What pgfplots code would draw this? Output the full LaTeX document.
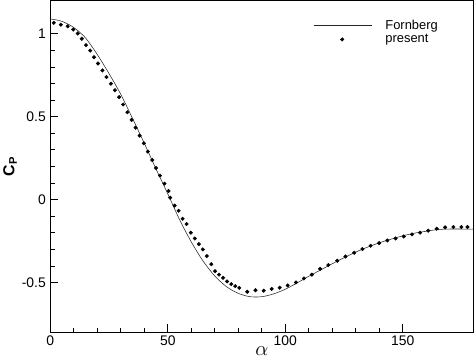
\documentclass[border=0pt]{standalone}
\usepackage{pgfplots}
\pgfplotsset{compat=1.18}
\usepackage{fontspec}
\setmainfont{Liberation Sans}
\pgfplotsset{
  lineleg/.style={legend image code/.code={\draw[##1] (0cm,0cm) -- (2.05cm,0cm); \path (2.45cm,0cm);}},
  dotleg/.style={legend image code/.code={\draw[##1, mark repeat=2, mark phase=2] plot coordinates {(0cm,0cm)(1cm,0cm)(2.05cm,0cm)}; \path (2.45cm,0cm);}},
}
\begin{document}
\begin{tikzpicture}
\begin{axis}[
  scale only axis,
  width=426pt, height=334pt,
  xmin=0, xmax=180, ymin=-0.8, ymax=1.2,
  xtick={0,50,100,150}, ytick={-0.5,0,0.5,1},
  minor x tick num=4, minor y tick num=4,
  tick pos=left, tick align=inside,
  major tick length=8pt, minor tick length=4.5pt,
  axis line style={line width=1.3pt},
  every tick/.style={black, line width=0.9pt},
  /pgf/number format/assume math mode=true,
  ticklabel style={font=\fontsize{14}{16}\selectfont},
  yticklabel style={/pgf/number format/fixed, xshift=-1pt},
  xlabel={$\alpha$}, xlabel style={font=\fontsize{20}{22}\selectfont, yshift=6pt},
  ylabel={\textbf{C\textsubscript{P}}}, ylabel style={font=\fontsize{16}{18}\selectfont, yshift=-2pt},
  legend style={draw=none, fill=none, at={(0.615,0.955)}, anchor=north west,
    font=\fontsize{13}{15}\selectfont, row sep=0pt},
  legend cell align=left,
]
\addplot[black!85, line width=0.55pt, smooth, tension=0.5, lineleg] coordinates {
(0,1.09) (5,1.075) (10,1.038) (15,0.975) (20,0.875) (25,0.76) (30,0.635)
(35,0.49) (40,0.34) (45,0.185) (50,0.035) (55,-0.12) (60,-0.255) (65,-0.37)
(70,-0.46) (75,-0.525) (80,-0.565) (85,-0.585) (90,-0.585) (95,-0.568)
(100,-0.54) (105,-0.502) (110,-0.462) (115,-0.424) (120,-0.386) (125,-0.35)
(130,-0.316) (135,-0.286) (140,-0.26) (145,-0.238) (150,-0.218) (155,-0.202)
(160,-0.19) (165,-0.18) (170,-0.177) (175,-0.177) (180,-0.178)
};
\addlegendentry{Fornberg}
\addplot[only marks, mark=*, mark size=1.8pt, black, dotleg] coordinates {
(1.5,1.066) (4.5,1.055) (7.4,1.045) (9.8,1.026) (11.7,1.002) (13.4,0.970)
(15.2,0.932) (17.0,0.899) (18.6,0.859) (20.3,0.821) (22.2,0.779) (23.9,0.739)
(25.8,0.699) (27.5,0.660) (29.3,0.618) (31.0,0.574) (32.8,0.527) (34.6,0.481)
(36.3,0.434) (38.0,0.386) (39.8,0.340) (41.5,0.290) (43.4,0.239) (45.0,0.191)
(46.7,0.145) (48.6,0.097) (50.3,0.052) (51.0,0.012) (52.9,-0.036) (54.6,-0.067)
(56.3,-0.115) (58.0,-0.147) (59.8,-0.199) (61.5,-0.234) (63.2,-0.268) (64.9,-0.300)
(66.6,-0.340) (68.5,-0.389) (70.1,-0.431) (71.8,-0.452) (73.5,-0.471) (75.2,-0.493)
(77.0,-0.509) (78.7,-0.521) (80.4,-0.532) (83.8,-0.555) (87.3,-0.546) (90.8,-0.549)
(94.2,-0.538) (97.6,-0.531) (101.0,-0.517) (104.5,-0.499) (107.9,-0.475) (111.3,-0.452)
(114.8,-0.417) (118.3,-0.394) (122.1,-0.368) (125.6,-0.343) (129.3,-0.320) (132.8,-0.298)
(136.3,-0.278) (139.9,-0.262) (143.4,-0.246) (146.9,-0.234) (150.4,-0.222) (153.9,-0.209)
(157.3,-0.199) (160.8,-0.187) (164.4,-0.175) (168.0,-0.167) (171.5,-0.165) (174.9,-0.165)
(177.5,-0.165)
};
\addlegendentry{present}
\end{axis}
\end{tikzpicture}
\end{document}
